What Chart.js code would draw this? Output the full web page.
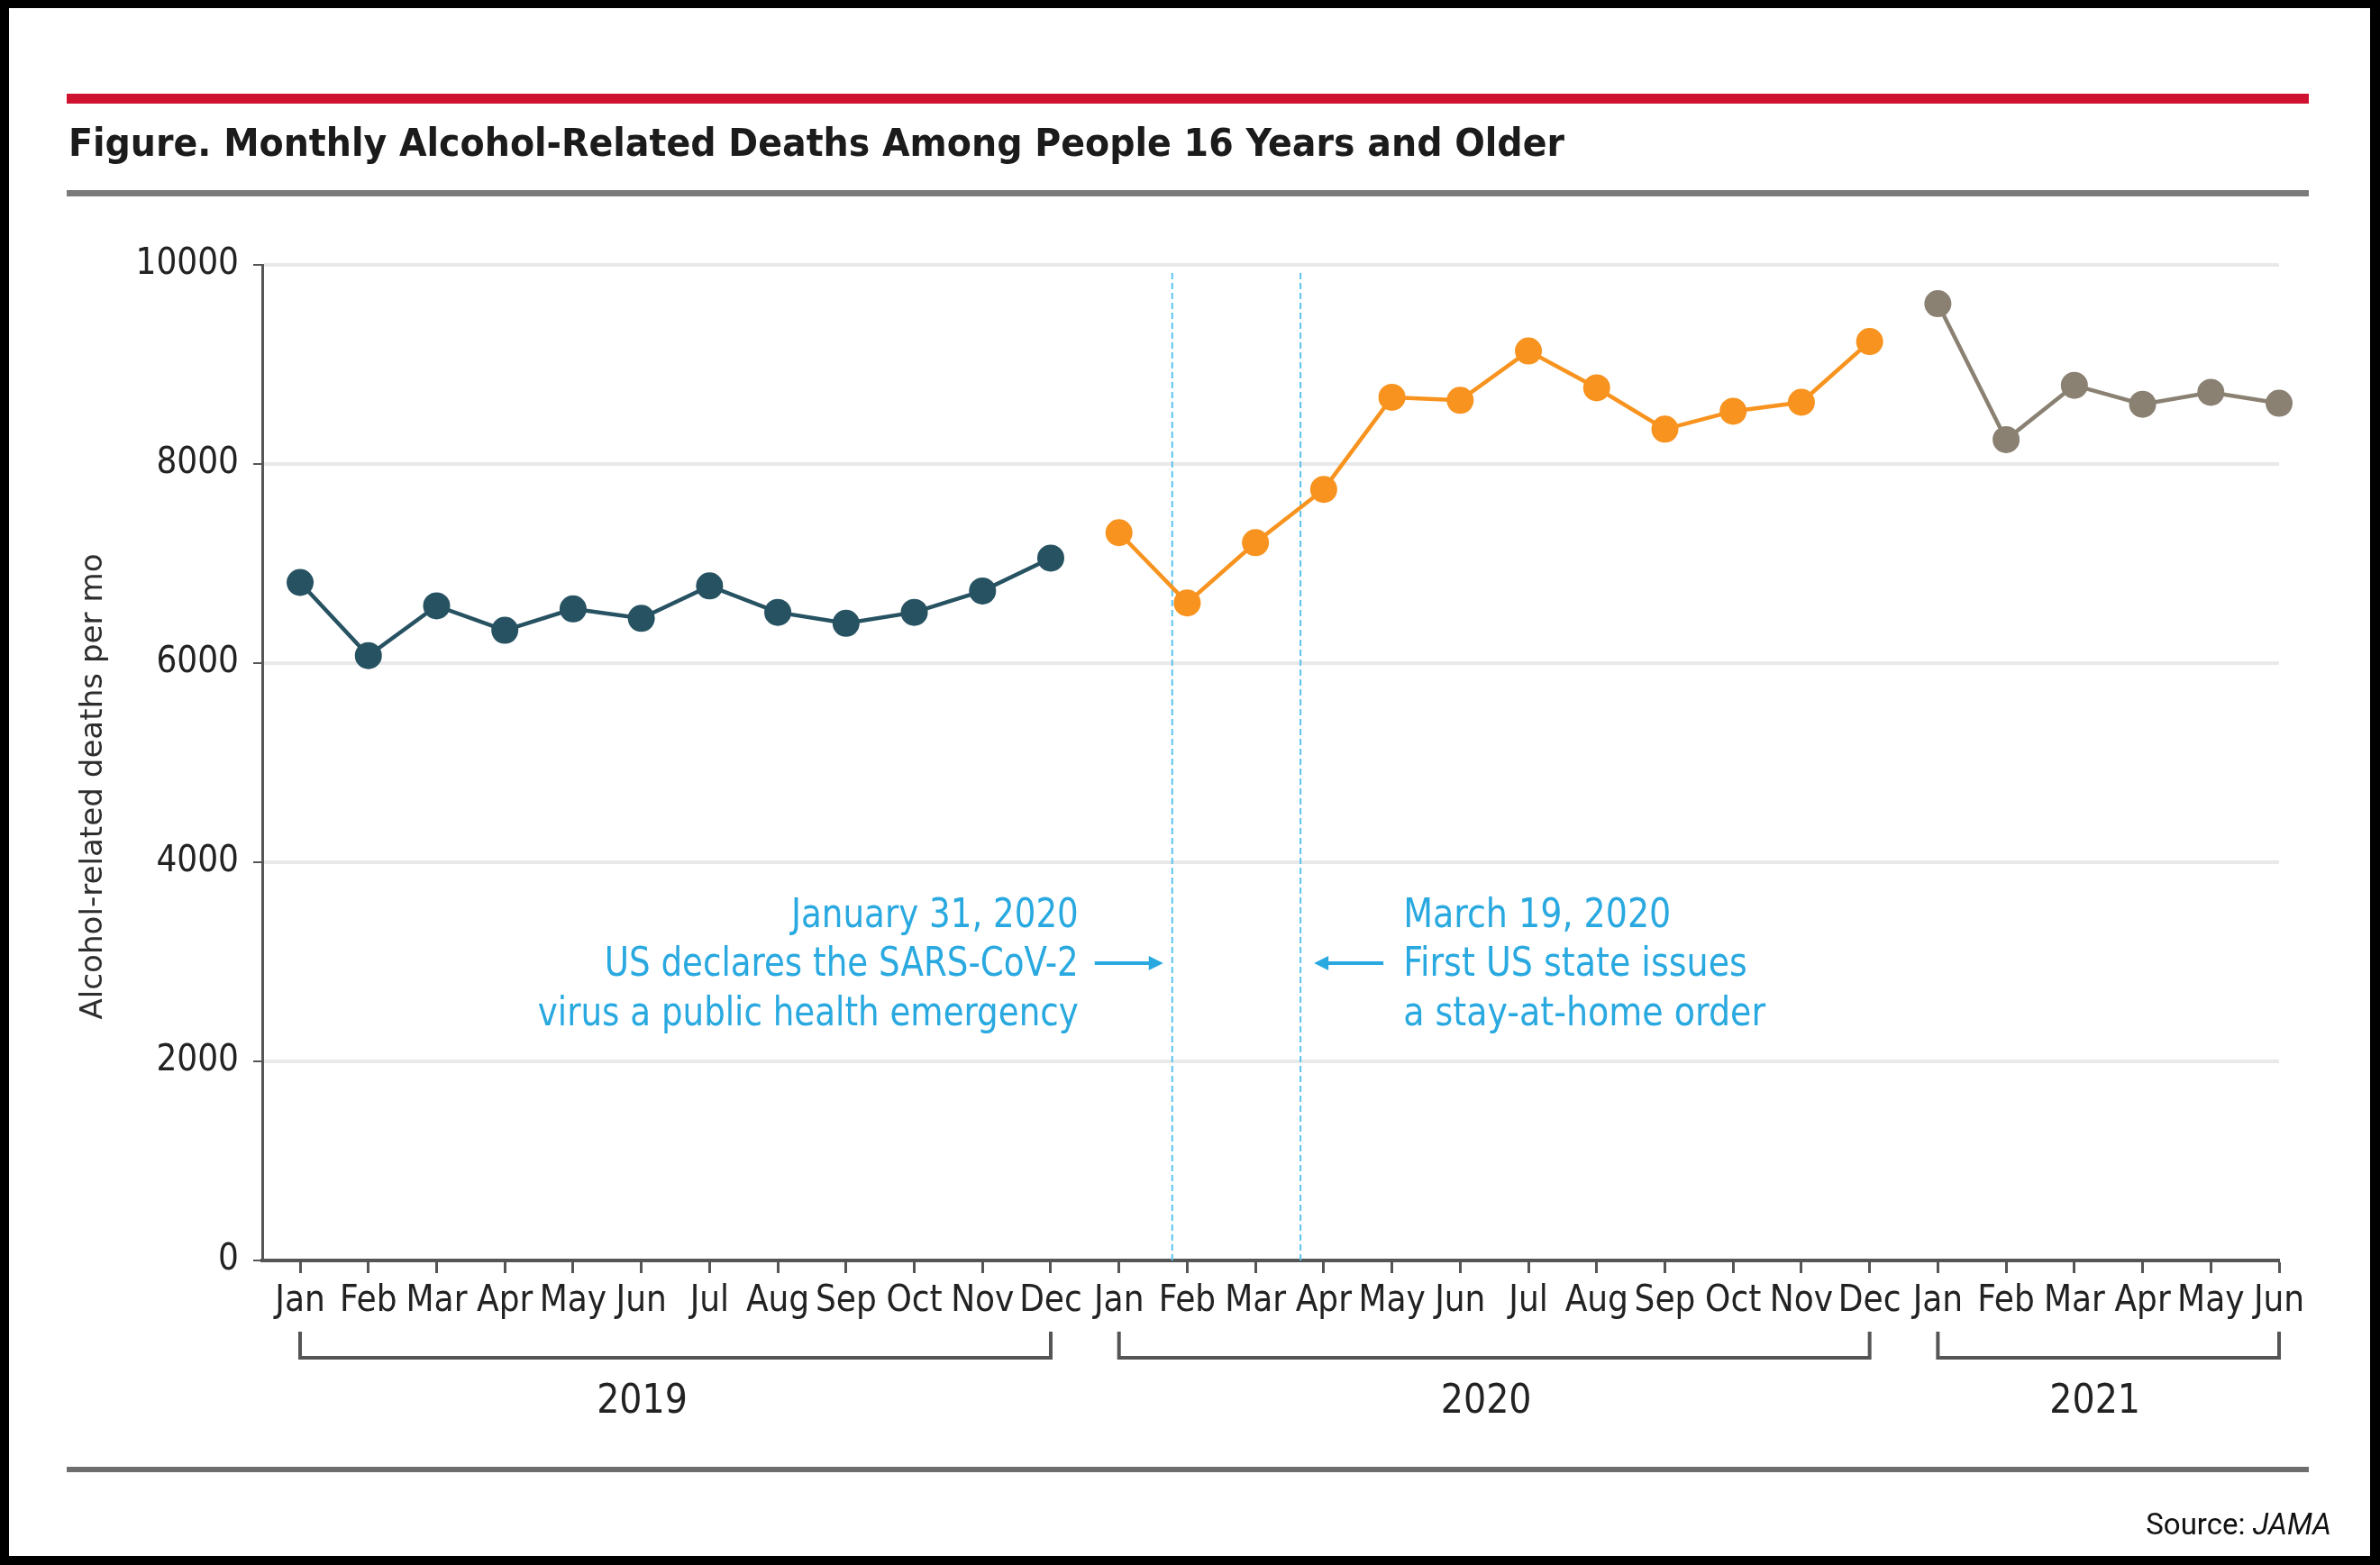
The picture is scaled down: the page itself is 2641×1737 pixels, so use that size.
<!DOCTYPE html>
<html>
<head>
<meta charset="utf-8">
<script src="https://cdn.jsdelivr.net/npm/chart.js@4.4.1/dist/chart.umd.min.js"></script>
<style>
  html, body { margin: 0; padding: 0; background: #fff; }
  canvas { display: block; }
</style>
</head>
<body>
<canvas id="alcohol-deaths" width="2641" height="1737"></canvas>
<script>
// Data
const months = ["Jan", "Feb", "Mar", "Apr", "May", "Jun", "Jul", "Aug", "Sep", "Oct", "Nov", "Dec"];
const years = ["2019", "2020", "2021"];
const deaths2019 = [6810, 6075, 6575, 6330, 6545, 6450, 6775, 6510, 6400, 6510, 6725, 7055];
const deaths2020 = [7310, 6605, 7210, 7745, 8670, 8640, 9135, 8765, 8350, 8530, 8620, 9230];
const deaths2021 = [9610, 8245, 8790, 8600, 8720, 8610];
const yTickStep = 2000;
const yMax = 10000;

// Events (month index from Jan 2019)
const eventPositions = [12.78, 14.66];
const eventLabels = [
  ["January 31, 2020", "US declares the SARS-CoV-2", "virus a public health emergency"],
  ["March 19, 2020", "First US state issues", "a stay-at-home order"],
];

const titleText = "Figure. Monthly Alcohol-Related Deaths Among People 16 Years and Older";
const yAxisTitle = "Alcohol-related deaths per mo";

//Helper Functions
const COND = "'DejaVu Sans Condensed', 'Liberation Sans Narrow', sans-serif";
const PLAIN = "'DejaVu Sans', 'Open Sans', sans-serif";
const BLUE = "#29a9e0";

const toPoints = (values, startIndex) =>
  values.map((value, i) => ({ x: startIndex + i, y: value }));

const monthLabel = (index) => months[index % 12];

// draw text squeezed horizontally to a target width
const drawFitted = (ctx, text, x, y, font, color, align, targetWidth) => {
  ctx.save();
  ctx.font = font;
  ctx.fillStyle = color;
  ctx.textAlign = align;
  ctx.textBaseline = "alphabetic";
  const w = ctx.measureText(text).width;
  const sx = targetWidth ? targetWidth / w : 1;
  ctx.translate(x, y);
  ctx.scale(sx, 1);
  ctx.fillText(text, 0, 0);
  ctx.restore();
};

const blockScale = (ctx, lines, font, targetWidth) => {
  ctx.save();
  ctx.font = font;
  const widest = Math.max(...lines.map((l) => ctx.measureText(l).width));
  ctx.restore();
  return targetWidth / widest;
};

const drawArrow = (ctx, fromX, toX, y) => {
  const dir = Math.sign(toX - fromX);
  ctx.save();
  ctx.strokeStyle = BLUE;
  ctx.fillStyle = BLUE;
  ctx.lineWidth = 4;
  ctx.beginPath();
  ctx.moveTo(fromX, y);
  ctx.lineTo(toX - dir * 12, y);
  ctx.stroke();
  ctx.beginPath();
  ctx.moveTo(toX, y);
  ctx.lineTo(toX - dir * 16, y - 8);
  ctx.lineTo(toX - dir * 16, y + 8);
  ctx.closePath();
  ctx.fill();
  ctx.restore();
};

// Page frame, title and source
const framePlugin = {
  id: "frame",
  beforeDraw(chart) {
    const ctx = chart.ctx;
    const W = chart.width;
    const H = chart.height;
    ctx.save();
    ctx.fillStyle = "#ffffff";
    ctx.fillRect(0, 0, W, H);
    ctx.fillStyle = "#000000";
    ctx.fillRect(0, 0, W, 9);
    ctx.fillRect(0, 0, 10, H);
    ctx.fillRect(W - 11, 0, 11, H);
    ctx.fillRect(0, H - 10, W, 10);
    ctx.fillStyle = "#cf1230";
    ctx.fillRect(74, 104, 2488, 11);
    ctx.fillStyle = "#7a7a7a";
    ctx.fillRect(74, 211, 2488, 7);
    ctx.fillStyle = "#6e6e6e";
    ctx.fillRect(74, 1628, 2488, 6);
    ctx.restore();

    drawFitted(ctx, titleText, 76, 173, `bold 43px ${COND}`, "#1b1b1b", "left", 1660);

    // Source: JAMA
    ctx.save();
    ctx.fillStyle = "#111111";
    ctx.textBaseline = "alphabetic";
    ctx.textAlign = "left";
    ctx.font = "italic 33px Roboto, sans-serif";
    const jamaW = ctx.measureText("JAMA").width;
    ctx.fillText("JAMA", 2587 - jamaW, 1703);
    ctx.font = "33px Roboto, sans-serif";
    const srcW = ctx.measureText("Source: ").width;
    ctx.fillText("Source: ", 2587 - jamaW - srcW, 1703);
    ctx.restore();
  },
  afterDraw(chart) {
    const ctx = chart.ctx;
    const x = chart.scales.x;

    // y axis title
    ctx.save();
    ctx.translate(101, 873);
    ctx.rotate(-Math.PI / 2);
    drawFitted(ctx, yAxisTitle, 0, 12, `34px ${PLAIN}`, "#2e2e2e", "center", 517);
    ctx.restore();

    // year brackets
    const groups = [
      [0, deaths2019.length - 1],
      [12, 12 + deaths2020.length - 1],
      [24, 24 + deaths2021.length - 1],
    ];
    const labelShift = [-37, -9, -15];
    ctx.save();
    ctx.strokeStyle = "#555555";
    ctx.lineWidth = 4;
    groups.forEach(([a, b], i) => {
      const xa = x.getPixelForValue(a);
      const xb = x.getPixelForValue(b);
      ctx.beginPath();
      ctx.moveTo(xa, 1478);
      ctx.lineTo(xa, 1507);
      ctx.lineTo(xb, 1507);
      ctx.lineTo(xb, 1478);
      ctx.stroke();
      drawFitted(ctx, years[i], (xa + xb) / 2 + labelShift[i], 1568, `44px ${COND}`, "#222222", "center");
    });
    ctx.restore();

    // event annotations
    const font = `44px ${COND}`;
    const baselines = [1029, 1083, 1138];
    const leftLine = x.getPixelForValue(eventPositions[0]);
    const rightLine = x.getPixelForValue(eventPositions[1]);
    const leftScale = blockScale(ctx, eventLabels[0], font, 600);
    const rightScale = blockScale(ctx, eventLabels[1], font, 402);
    eventLabels[0].forEach((line, i) => {
      ctx.save();
      ctx.font = font;
      const w = ctx.measureText(line).width * leftScale;
      ctx.restore();
      drawFitted(ctx, line, leftLine - 104, baselines[i], font, BLUE, "right", w);
    });
    eventLabels[1].forEach((line, i) => {
      ctx.save();
      ctx.font = font;
      const w = ctx.measureText(line).width * rightScale;
      ctx.restore();
      drawFitted(ctx, line, rightLine + 114, baselines[i], font, BLUE, "left", w);
    });
    drawArrow(ctx, leftLine - 86, leftLine - 10, 1069);
    drawArrow(ctx, rightLine + 92, rightLine + 15, 1069);
  },
};

//Chart
const seriesStyle = (color) => ({
  borderColor: color,
  backgroundColor: color,
  pointBackgroundColor: color,
  pointBorderWidth: 0,
  pointRadius: 15,
  borderWidth: 4.5,
  tension: 0,
  clip: false,
  order: 1,
});

const eventLine = (pos) => ({
  data: [{ x: pos, y: 0 }, { x: pos, y: 9950 }],
  borderColor: "#5cc3ee",
  borderWidth: 2,
  borderDash: [7, 4],
  pointRadius: 0,
  order: 10,
});

const canvas = document.getElementById("alcohol-deaths");
new Chart(canvas, {
  type: "line",
  data: {
    datasets: [
      { label: years[0], data: toPoints(deaths2019, 0), ...seriesStyle("#275262") },
      { label: years[1], data: toPoints(deaths2020, 12), ...seriesStyle("#f7931e") },
      { label: years[2], data: toPoints(deaths2021, 24), ...seriesStyle("#8a8173") },
      ...eventPositions.map(eventLine),
    ],
  },
  options: {
    responsive: false,
    animation: false,
    events: [],
    layout: { padding: { top: 294, right: 112, left: 0, bottom: 0 } },
    plugins: {
      legend: { display: false },
      tooltip: { enabled: false },
    },
    scales: {
      x: {
        type: "linear",
        min: -0.555,
        max: 29,
        afterFit: (scale) => { scale.height = 338; },
        ticks: {
          stepSize: 1,
          includeBounds: false,
          autoSkip: false,
          maxRotation: 0,
          padding: 8,
          color: "#222222",
          font: { family: COND, size: 40 },
          callback: (value) => (Number.isInteger(value) && value >= 0 ? monthLabel(value) : ""),
        },
        grid: {
          display: true,
          drawOnChartArea: false,
          drawTicks: true,
          tickLength: 14,
          tickColor: "#555555",
          tickWidth: 3,
        },
        border: { color: "#555555", width: 4 },
      },
      y: {
        min: 0,
        max: yMax,
        afterFit: (scale) => { scale.width = 291; },
        ticks: {
          stepSize: yTickStep,
          padding: 16,
          color: "#222222",
          font: { family: COND, size: 40 },
          callback: (value) => String(value),
        },
        grid: {
          color: "#e9e9e9",
          lineWidth: 4,
          tickLength: 10,
          tickColor: "#555555",
          tickWidth: 2,
        },
        border: { color: "#555555", width: 3 },
      },
    },
  },
  plugins: [framePlugin],
});
</script>
</body>
</html>
